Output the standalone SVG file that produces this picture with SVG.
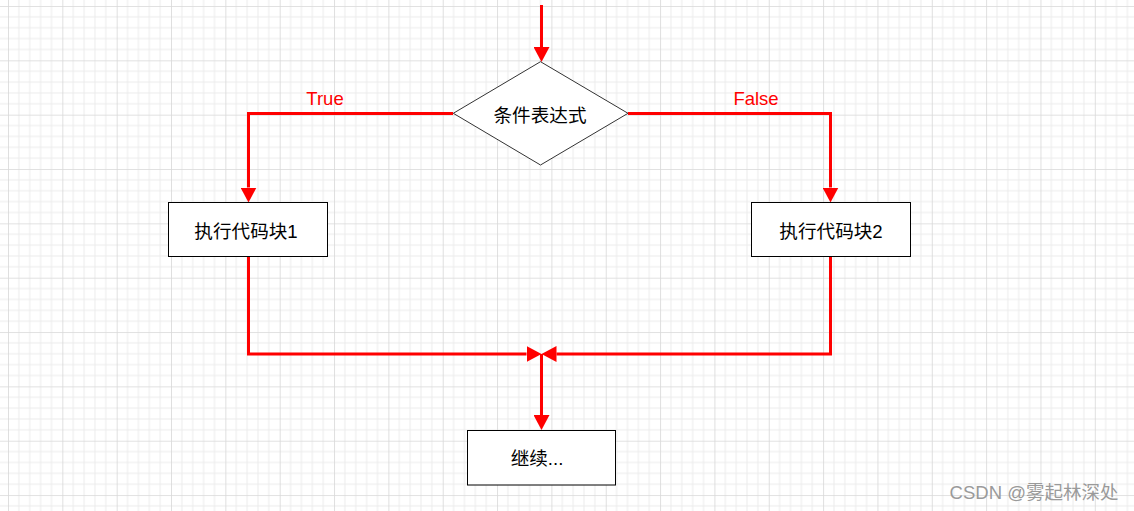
<svg xmlns="http://www.w3.org/2000/svg" width="1134" height="511" viewBox="0 0 1134 511">
  <defs>
    <pattern id="grid" patternUnits="userSpaceOnUse" x="8" y="6" width="54.34" height="54.34">
      <path d="M10.87,0V54.34M21.74,0V54.34M32.6,0V54.34M43.47,0V54.34M0,10.87H54.34M0,21.74H54.34M0,32.6H54.34M0,43.47H54.34" fill="none" stroke="#ebebeb" stroke-width="1"/>
      <path d="M0.3,0V54.34M0,0.3H54.34" fill="none" stroke="#d8d8d8" stroke-width="1"/>
    </pattern>
    <marker id="arrow" markerUnits="userSpaceOnUse" markerWidth="15" markerHeight="16" refX="0" refY="8" orient="auto">
      <path d="M0,0 L15,8 L0,16 z" fill="#ff0000"/>
    </marker>
    <style>
      .conn { fill: none; stroke: #ff0000; stroke-width: 3; marker-end: url(#arrow); }
      .box { fill: #ffffff; stroke: #000000; stroke-width: 1; }
      .diamond { fill: #ffffff; stroke: #333333; stroke-width: 1; }
      .label { font-family: "Liberation Sans", "Noto Sans CJK SC", sans-serif; font-size: 18.6px; fill: #000000; text-anchor: middle; }
      .edge-label { font-family: "Liberation Sans", "Noto Sans CJK SC", sans-serif; font-size: 18.5px; fill: #ff0000; text-anchor: middle; }
    </style>
  </defs>
  <rect x="0" y="0" width="1134" height="511" fill="#ffffff"/>
  <rect x="0" y="0" width="1134" height="511" fill="url(#grid)"/>

  <g id="connectors">
    <path class="conn" d="M541.5,5 V47"/>
    <path class="conn" d="M453,113.5 H248.5 V187.5"/>
    <path class="conn" d="M628,113.5 H830.5 V187.5"/>
    <path class="conn" d="M248.5,256.5 V354 H526.5"/>
    <path class="conn" d="M830.5,256.5 V354 H556.5"/>
    <path class="conn" d="M541.5,354 V415"/>
    <text class="edge-label" x="325" y="105">True</text>
    <text class="edge-label" x="756" y="105">False</text>
  </g>

  <g id="condition">
    <polygon class="diamond" points="540.5,61.7 628,113.3 540.5,165 453.3,113.3"/>
    <text class="label" x="540" y="121.5">条件表达式</text>
  </g>

  <g id="block1">
    <rect class="box" x="168.5" y="202.5" width="159" height="54"/>
    <text class="label" x="246" y="238">执行代码块1</text>
  </g>

  <g id="block2">
    <rect class="box" x="751.5" y="202.5" width="159" height="54"/>
    <text class="label" x="831" y="237.5">执行代码块2</text>
  </g>

  <g id="continue">
    <rect class="box" x="467.5" y="430.5" width="148" height="54.5"/>
    <text class="label" x="537" y="464.5">继续...</text>
  </g>

  <text x="1034" y="499" font-family="Liberation Sans, 'Noto Sans CJK SC', sans-serif" font-size="18.5" fill="#9a9a9a" text-anchor="middle">CSDN @雾起林深处</text>
</svg>
